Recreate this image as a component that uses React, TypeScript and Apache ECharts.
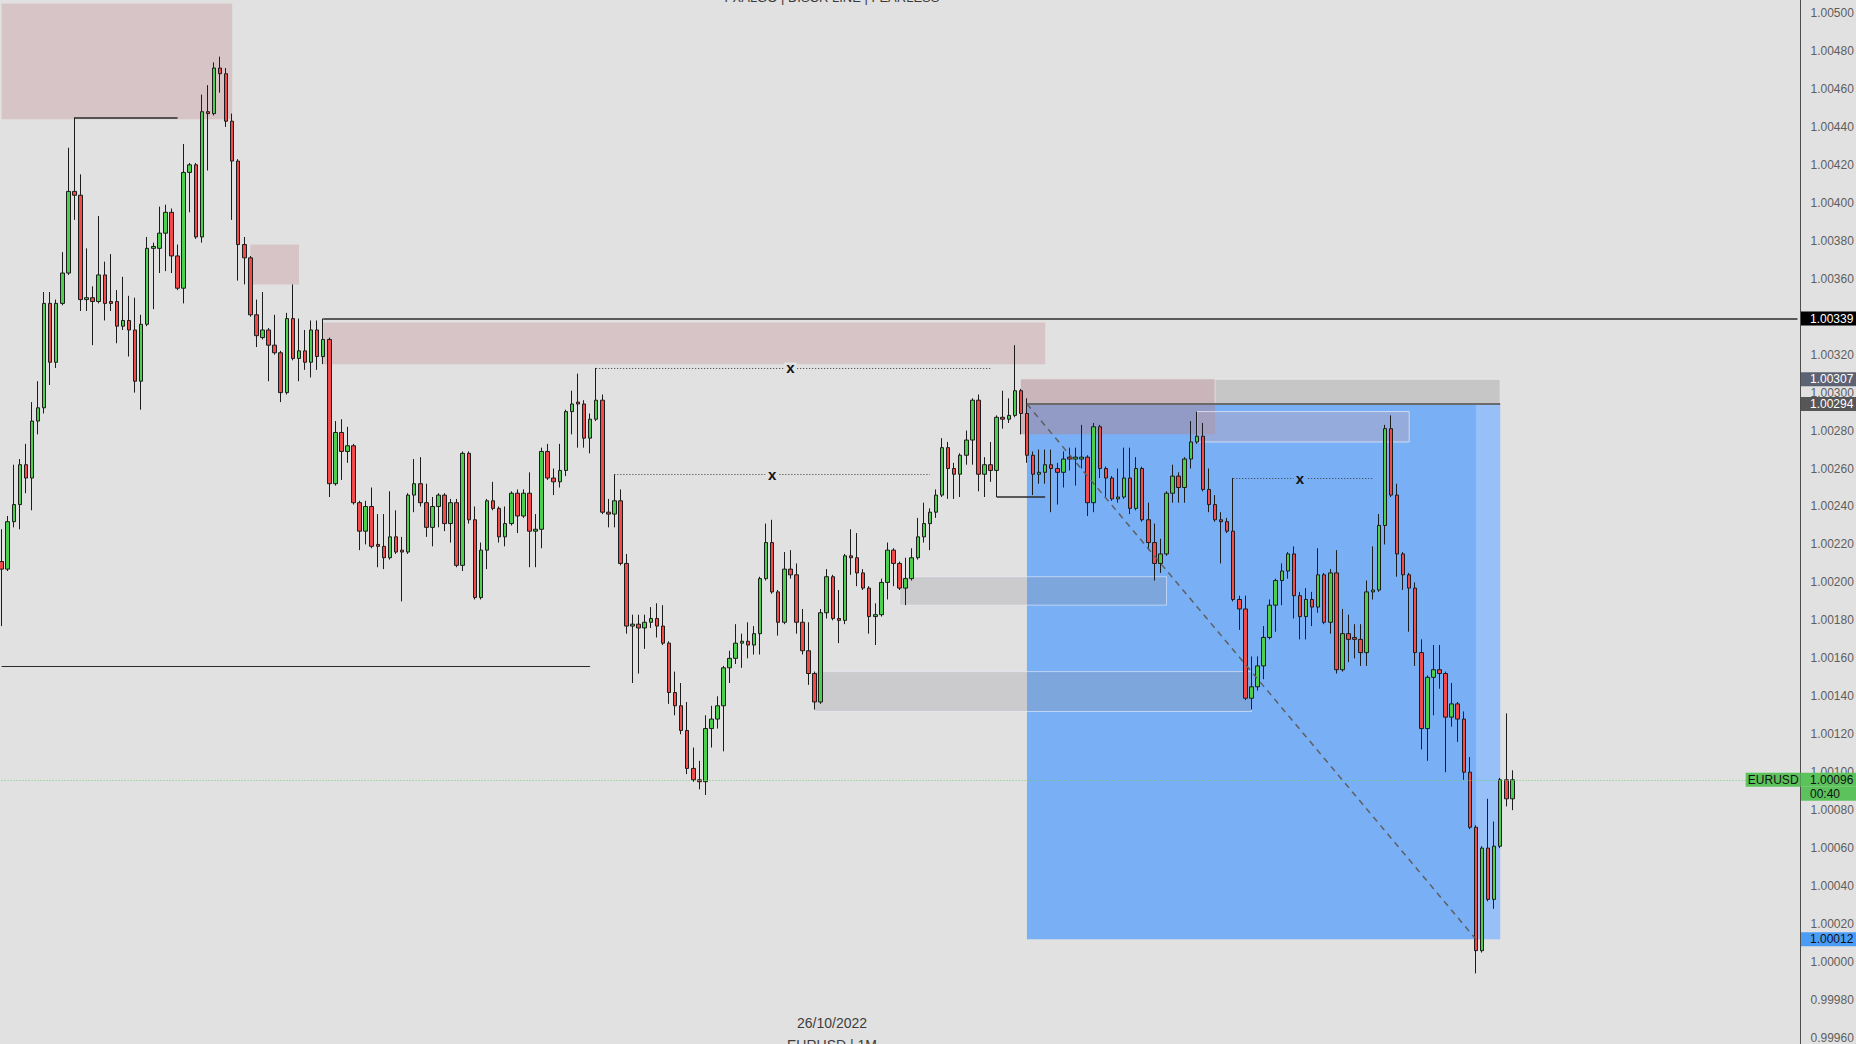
import React, { useEffect, useRef } from "react";
import * as echarts from "echarts";

const FONT = '"Liberation Sans", "Helvetica Neue", Arial, sans-serif';

// ---- candle data (EURUSD 1M) ----
const opens = [
  1.00211,1.00207,1.00232,1.00241,1.00262,1.00255,1.00285,1.00292,1.00347,1.00316,
  1.00347,1.00363,1.00406,1.00404,1.00349,1.00350,1.00348,1.00362,1.00348,1.00348,
  1.00335,1.00338,1.00333,1.00306,1.00336,1.00376,1.00376,1.00384,1.00395,1.00372,
  1.00355,1.00416,1.00420,1.00382,1.00448,1.00447,1.00471,1.00468,1.00443,1.00422,
  1.00378,1.00371,1.00341,1.00329,1.00333,1.00325,1.00321,1.00300,1.00339,1.00318,
  1.00322,1.00316,1.00333,1.00319,1.00328,1.00252,1.00279,1.00269,1.00272,1.00242,
  1.00227,1.00240,1.00220,1.00219,1.00213,1.00224,1.00217,1.00216,1.00246,1.00252,
  1.00242,1.00229,1.00240,1.00246,1.00231,1.00242,1.00209,1.00268,1.00233,1.00192,
  1.00217,1.00243,1.00239,1.00224,1.00231,1.00247,1.00235,1.00247,1.00227,1.00228,
  1.00269,1.00255,1.00253,1.00259,1.00290,1.00295,1.00294,1.00276,1.00286,1.00296,
  1.00237,1.00236,1.00243,1.00210,1.00177,1.00178,1.00176,1.00179,1.00181,1.00177,
  1.00168,1.00142,1.00135,1.00122,1.00102,1.00096,1.00095,1.00123,1.00128,1.00135,
  1.00155,1.00160,1.00168,1.00169,1.00167,1.00173,1.00202,1.00221,1.00195,1.00179,
  1.00207,1.00204,1.00179,1.00164,1.00152,1.00137,1.00184,1.00203,1.00181,1.00180,
  1.00214,1.00213,1.00205,1.00197,1.00182,1.00183,1.00200,1.00217,1.00210,1.00197,
  1.00202,1.00213,1.00224,1.00231,1.00237,1.00246,1.00271,1.00260,1.00257,1.00267,
  1.00275,1.00296,1.00257,1.00262,1.00259,1.00287,1.00286,1.00288,1.00301,1.00289,
  1.00267,1.00257,1.00258,1.00262,1.00260,1.00258,1.00266,1.00265,1.00265,1.00266,
  1.00242,1.00282,1.00260,1.00255,1.00244,1.00245,1.00255,1.00239,1.00260,1.00233,
  1.00221,1.00210,1.00215,1.00247,1.00256,1.00250,1.00265,1.00274,1.00277,1.00249,
  1.00241,1.00233,1.00232,1.00227,1.00191,1.00186,1.00139,1.00145,1.00156,1.00171,
  1.00188,1.00201,1.00206,1.00215,1.00193,1.00182,1.00191,1.00187,1.00204,1.00179,
  1.00205,1.00154,1.00173,1.00171,1.00170,1.00163,1.00195,1.00196,1.00230,1.00281,
  1.00246,1.00215,1.00204,1.00197,1.00163,1.00123,1.00150,1.00154,1.00152,1.00129,
  1.00136,1.00128,1.00100,1.00071,1.00006,1.00060,1.00033,1.00061,1.00096,1.00086,
];
const closes = [
  1.00207,1.00232,1.00241,1.00262,1.00255,1.00285,1.00292,1.00347,1.00316,1.00347,
  1.00363,1.00406,1.00404,1.00349,1.00350,1.00348,1.00362,1.00347,1.00347,1.00335,
  1.00338,1.00333,1.00306,1.00336,1.00376,1.00377,1.00384,1.00395,1.00372,1.00355,
  1.00416,1.00420,1.00382,1.00448,1.00447,1.00471,1.00468,1.00443,1.00422,1.00378,
  1.00371,1.00341,1.00330,1.00333,1.00325,1.00321,1.00300,1.00339,1.00318,1.00322,
  1.00316,1.00333,1.00319,1.00328,1.00252,1.00279,1.00269,1.00272,1.00242,1.00227,
  1.00240,1.00219,1.00219,1.00213,1.00224,1.00216,1.00216,1.00246,1.00252,1.00242,
  1.00229,1.00240,1.00246,1.00231,1.00242,1.00209,1.00268,1.00233,1.00192,1.00217,
  1.00243,1.00239,1.00224,1.00231,1.00247,1.00235,1.00247,1.00227,1.00228,1.00269,
  1.00255,1.00253,1.00259,1.00290,1.00294,1.00294,1.00276,1.00286,1.00296,1.00237,
  1.00236,1.00243,1.00210,1.00177,1.00178,1.00176,1.00179,1.00181,1.00177,1.00168,
  1.00142,1.00135,1.00122,1.00102,1.00096,1.00095,1.00123,1.00128,1.00135,1.00155,
  1.00160,1.00168,1.00169,1.00167,1.00173,1.00202,1.00221,1.00195,1.00179,1.00207,
  1.00204,1.00179,1.00164,1.00152,1.00137,1.00184,1.00203,1.00181,1.00180,1.00214,
  1.00213,1.00205,1.00197,1.00182,1.00183,1.00200,1.00217,1.00210,1.00197,1.00202,
  1.00213,1.00224,1.00231,1.00237,1.00246,1.00271,1.00260,1.00257,1.00267,1.00275,
  1.00296,1.00257,1.00262,1.00259,1.00287,1.00286,1.00288,1.00301,1.00289,1.00267,
  1.00257,1.00258,1.00262,1.00260,1.00258,1.00265,1.00265,1.00266,1.00266,1.00242,
  1.00282,1.00260,1.00255,1.00244,1.00245,1.00255,1.00239,1.00260,1.00233,1.00221,
  1.00210,1.00215,1.00247,1.00256,1.00250,1.00265,1.00274,1.00277,1.00249,1.00241,
  1.00233,1.00232,1.00227,1.00191,1.00186,1.00139,1.00145,1.00156,1.00171,1.00188,
  1.00201,1.00206,1.00215,1.00193,1.00182,1.00191,1.00187,1.00204,1.00179,1.00205,
  1.00154,1.00173,1.00170,1.00170,1.00163,1.00195,1.00196,1.00230,1.00281,1.00246,
  1.00215,1.00204,1.00197,1.00163,1.00123,1.00150,1.00154,1.00152,1.00129,1.00136,
  1.00128,1.00100,1.00071,1.00006,1.00060,1.00033,1.00061,1.00096,1.00086,1.00096,
];
const lows = [
  1.00177,1.00206,1.00229,1.00228,1.00247,1.00238,1.00278,1.00289,1.00304,1.00313,
  1.00346,1.00362,1.00391,1.00343,1.00343,1.00325,1.00347,1.00338,1.00343,1.00326,
  1.00333,1.00319,1.00300,1.00291,1.00335,1.00344,1.00363,1.00364,1.00363,1.00354,
  1.00347,1.00395,1.00381,1.00379,1.00417,1.00446,1.00458,1.00440,1.00391,1.00359,
  1.00357,1.00340,1.00324,1.00328,1.00306,1.00320,1.00295,1.00299,1.00317,1.00306,
  1.00312,1.00308,1.00312,1.00315,1.00245,1.00251,1.00254,1.00263,1.00241,1.00217,
  1.00220,1.00218,1.00208,1.00207,1.00212,1.00215,1.00190,1.00215,1.00237,1.00240,
  1.00224,1.00219,1.00229,1.00227,1.00221,1.00208,1.00206,1.00231,1.00191,1.00191,
  1.00207,1.00238,1.00221,1.00219,1.00230,1.00226,1.00234,1.00208,1.00208,1.00218,
  1.00254,1.00246,1.00250,1.00256,1.00278,1.00271,1.00271,1.00268,1.00285,1.00236,
  1.00229,1.00229,1.00209,1.00173,1.00147,1.00152,1.00165,1.00176,1.00171,1.00167,
  1.00136,1.00130,1.00120,1.00099,1.00095,1.00091,1.00088,1.00113,1.00123,1.00111,
  1.00147,1.00157,1.00155,1.00160,1.00162,1.00162,1.00201,1.00194,1.00172,1.00178,
  1.00202,1.00173,1.00162,1.00146,1.00133,1.00136,1.00181,1.00180,1.00168,1.00178,
  1.00204,1.00198,1.00196,1.00173,1.00167,1.00182,1.00191,1.00198,1.00196,1.00188,
  1.00201,1.00212,1.00221,1.00217,1.00234,1.00245,1.00244,1.00244,1.00245,1.00262,
  1.00262,1.00248,1.00245,1.00253,1.00245,1.00281,1.00284,1.00287,1.00278,1.00263,
  1.00246,1.00252,1.00252,1.00237,1.00241,1.00250,1.00259,1.00251,1.00260,1.00235,
  1.00237,1.00255,1.00245,1.00243,1.00242,1.00244,1.00236,1.00238,1.00232,1.00217,
  1.00201,1.00205,1.00214,1.00242,1.00242,1.00242,1.00260,1.00273,1.00248,1.00237,
  1.00232,1.00210,1.00226,1.00190,1.00175,1.00138,1.00133,1.00143,1.00149,1.00170,
  1.00174,1.00188,1.00202,1.00181,1.00170,1.00170,1.00177,1.00184,1.00178,1.00173,
  1.00152,1.00153,1.00158,1.00160,1.00156,1.00156,1.00191,1.00195,1.00220,1.00245,
  1.00203,1.00196,1.00174,1.00156,1.00112,1.00106,1.00130,1.00144,1.00100,1.00124,
  1.00116,1.00096,1.00070,0.99994,1.00005,1.00032,1.00028,1.00060,1.00082,1.00080,
];
const highs = [
  1.00228,1.00235,1.00262,1.00265,1.00273,1.00295,1.00306,1.00353,1.00353,1.00349,
  1.00374,1.00429,1.00445,1.00415,1.00376,1.00356,1.00393,1.00369,1.00373,1.00354,
  1.00361,1.00351,1.00350,1.00341,1.00382,1.00379,1.00398,1.00399,1.00397,1.00378,
  1.00431,1.00421,1.00421,1.00457,1.00462,1.00474,1.00477,1.00471,1.00447,1.00423,
  1.00382,1.00372,1.00349,1.00353,1.00334,1.00341,1.00322,1.00342,1.00357,1.00339,
  1.00333,1.00338,1.00338,1.00339,1.00329,1.00285,1.00286,1.00282,1.00273,1.00243,
  1.00243,1.00250,1.00236,1.00236,1.00248,1.00238,1.00224,1.00247,1.00265,1.00266,
  1.00252,1.00245,1.00247,1.00247,1.00244,1.00244,1.00269,1.00269,1.00240,1.00221,
  1.00244,1.00253,1.00240,1.00240,1.00248,1.00249,1.00249,1.00258,1.00236,1.00271,
  1.00273,1.00260,1.00273,1.00291,1.00301,1.00310,1.00296,1.00289,1.00313,1.00299,
  1.00244,1.00257,1.00249,1.00215,1.00183,1.00183,1.00183,1.00187,1.00189,1.00188,
  1.00169,1.00153,1.00147,1.00137,1.00113,1.00106,1.00130,1.00135,1.00140,1.00156,
  1.00164,1.00178,1.00173,1.00179,1.00177,1.00203,1.00231,1.00233,1.00196,1.00216,
  1.00217,1.00210,1.00186,1.00179,1.00153,1.00186,1.00207,1.00204,1.00196,1.00215,
  1.00228,1.00226,1.00207,1.00198,1.00189,1.00202,1.00221,1.00218,1.00211,1.00213,
  1.00218,1.00234,1.00242,1.00239,1.00249,1.00276,1.00274,1.00263,1.00268,1.00280,
  1.00297,1.00299,1.00266,1.00274,1.00288,1.00301,1.00297,1.00325,1.00302,1.00297,
  1.00269,1.00270,1.00270,1.00270,1.00263,1.00269,1.00271,1.00271,1.00283,1.00267,
  1.00284,1.00283,1.00261,1.00256,1.00260,1.00271,1.00271,1.00266,1.00261,1.00242,
  1.00231,1.00223,1.00248,1.00262,1.00258,1.00266,1.00285,1.00290,1.00284,1.00260,
  1.00246,1.00237,1.00234,1.00255,1.00193,1.00193,1.00161,1.00161,1.00177,1.00191,
  1.00202,1.00210,1.00216,1.00219,1.00195,1.00197,1.00195,1.00218,1.00205,1.00207,
  1.00217,1.00186,1.00183,1.00178,1.00178,1.00201,1.00219,1.00236,1.00283,1.00288,
  1.00252,1.00216,1.00205,1.00200,1.00170,1.00151,1.00167,1.00167,1.00153,1.00147,
  1.00137,1.00132,1.00108,1.00072,1.00061,1.00086,1.00074,1.00097,1.00131,1.00101,
];

// time slots on the x axis (candles + empty space to the right)
const SLOT_COUNT = 297;
const slots = Array.from({ length: SLOT_COUNT }, (_, i) => `m${i}`);

// ---- drawings: [fromIndex, toIndex, upperPrice, lowerPrice] ----
const positionBox = [169, 247, 1.00294, 1.00012];
const positionFade = [243, 247, 1.00294, 1.00012];
const supplyZones = [
  [0, 38, 1.00505, 1.00444],
  [41, 49, 1.00378, 1.00357],
  [53, 172, 1.00337, 1.00315],
];
const orderBlock = [168, 200, 1.00307, 1.00278];
const greyTopZone = [200, 247, 1.00307, 1.00294];
const wickZone = [197, 232, 1.0029, 1.00274];
const demandZones = [
  [148, 192, 1.00203, 1.00188],
  [134, 206, 1.00153, 1.00132],
];
// [fromIndex, toIndex, price]
const swingLines = [
  [12, 29, 1.00445],
  [53, 296, 1.00339],
  [0, 97, 1.00156],
  [164, 172, 1.00245],
];
// [fromIndex, toIndex, price, markerIndex]
const sweepLines = [
  [98, 163, 1.00313, 130],
  [101, 153, 1.00257, 127],
  [203, 226, 1.00255, 214],
];
const targetPath = [
  [169, 1.00294],
  [243, 1.00012],
];
const entryLine = [169, 247, 1.00294];
const lastPrice = 1.00096;
const countdownLevel = 1.000886;
const tagLevels = [1.00339, 1.00307, 1.00294, 1.00012];
const tagTexts = ["1.00339", "1.00307", "1.00294", "1.00012"];
const yRange = { min: 0.9994, max: 1.0052, step: 0.0002 };

const BG = "#e1e1e1";
const BLUE = "#79aff5";

function area(z: number[], itemStyle: any) {
  return [{ coord: [z[0], z[2]], itemStyle }, { coord: [z[1], z[3]] }];
}

function tag(value: number, text: string, bg: string, fg: string) {
  return {
    yAxis: value,
    lineStyle: { color: "rgba(0,0,0,0)", width: 0 },
    label: {
      show: true,
      position: "end",
      formatter: text,
      color: fg,
      backgroundColor: bg,
      padding: [1, 6, 1, 9],
      fontSize: 12,
      lineHeight: 12,
      fontFamily: FONT,
      distance: 0.5,
    },
  };
}

function buildOption() {
  const candles = opens.map((o, i) => [o, closes[i], lows[i], highs[i]]);
  const tagColors = [
    ["#000000", "#ffffff"],
    ["#5d6273", "#ffffff"],
    ["#565656", "#ffffff"],
    ["#4b9cf6", "#111111"],
  ];
  return {
    animation: false,
    backgroundColor: BG,
    grid: {
      left: -1.4,
      right: 55.5,
      top: -24.96,
      bottom: -31.9,
      outerBoundsMode: "none",
      containLabel: false,
    },
    xAxis: {
      type: "category",
      data: slots,
      boundaryGap: true,
      show: false,
    },
    yAxis: {
      type: "value",
      position: "right",
      min: yRange.min,
      max: yRange.max,
      interval: yRange.step,
      axisLine: { show: true, lineStyle: { color: "#4d4d4d", width: 1 } },
      axisTick: { show: false },
      splitLine: { show: false },
      axisLabel: {
        formatter: (v: number) => v.toFixed(5),
        color: "#5e5e5e",
        fontSize: 12,
        fontFamily: FONT,
        margin: 10,
      },
    },
    series: [
      {
        type: "line",
        data: [],
        silent: true,
        markArea: {
          silent: true,
          z: 1,
          label: { show: false },
          data: [
            area(positionBox, { color: BLUE }),
            area(positionFade, { color: "rgba(255,255,255,0.22)" }),
            ...supplyZones.map((z) => area(z, { color: "rgba(170,80,90,0.2)" })),
            area(orderBlock, { color: "rgba(175,130,140,0.45)" }),
            area(greyTopZone, {
              color: "rgba(150,150,150,0.35)",
              borderColor: "rgba(240,240,240,0.6)",
              borderWidth: 1,
            }),
            area(wickZone, {
              color: "rgba(190,165,180,0.4)",
              borderColor: "rgba(235,235,245,0.75)",
              borderWidth: 1,
            }),
            ...demandZones.map((z) =>
              area(z, {
                color: "rgba(140,140,150,0.25)",
                borderColor: "rgba(235,240,250,0.6)",
                borderWidth: 1,
              })
            ),
          ],
        },
      },
      {
        type: "candlestick",
        data: candles,
        barWidth: 4,
        silent: true,
        itemStyle: {
          color: "#4ccf4c",
          color0: "#f24a4a",
          borderColor: "#1c1c1c",
          borderColor0: "#1c1c1c",
          borderColorDoji: "#1c1c1c",
          borderWidth: 1,
        },
      },
      {
        type: "line",
        data: [],
        silent: true,
        markLine: {
          silent: true,
          z: 5,
          precision: 6,
          symbol: ["none", "none"],
          label: { show: false },
          data: [
            ...swingLines.map(([a, b, p], i) => [
              {
                coord: [a, p],
                lineStyle: { color: "#2b2b2b", width: i === 2 ? 1.2 : 1.6, type: "solid" },
              },
              { coord: [b, p] },
            ]),
            ...sweepLines.map(([a, b, p]) => [
              { coord: [a, p], lineStyle: { color: "#3a3a3a", width: 1, type: [1, 2] } },
              { coord: [b, p] },
            ]),
            [
              { coord: targetPath[0], lineStyle: { color: "#5f5f5f", width: 1.5, type: [6, 5] } },
              { coord: targetPath[1] },
            ],
            [
              {
                coord: [entryLine[0], entryLine[2]],
                lineStyle: { color: "#6a6a6a", width: 2, type: "solid" },
              },
              { coord: [entryLine[1], entryLine[2]] },
            ],
            { yAxis: lastPrice, lineStyle: { color: "#6fcf6f", width: 1, type: [1, 2] } },
          ],
        },
      },
      {
        type: "line",
        data: [],
        silent: true,
        markLine: {
          silent: true,
          z: 6,
          precision: 6,
          symbol: ["none", "none"],
          data: [
            ...tagLevels.map((v, i) => tag(v, tagTexts[i], tagColors[i][0], tagColors[i][1])),
            tag(countdownLevel, "00:40    ", "#5cc25c", "#111111"),
            tag(lastPrice, "1.00096", "#5cc25c", "#111111"),
          ],
        },
      },
      {
        type: "line",
        data: [],
        silent: true,
        markPoint: {
          silent: true,
          z: 7,
          data: [
            ...sweepLines.map(([, , p, m]) => ({
              coord: [m, p],
              symbol: "rect",
              symbolSize: [13, 11],
              itemStyle: { color: m > 169 ? BLUE : BG },
              label: {
                show: true,
                position: "inside",
                formatter: "x",
                color: "#111",
                fontSize: 15,
                fontWeight: "bold",
                fontFamily: FONT,
              },
            })),
            {
              coord: [292, lastPrice],
              symbol: "rect",
              symbolSize: [55, 14],
              itemStyle: { color: "#5cc25c" },
              label: {
                show: true,
                position: "inside",
                formatter: "EURUSD",
                color: "#111",
                fontSize: 12,
                fontFamily: FONT,
              },
            },
          ],
        },
      },
    ],
    graphic: [
      {
        type: "text",
        x: 832,
        y: -3,
        silent: true,
        style: {
          text: "FXALGO | DISCR LINE | FEARLESS",
          fill: "#3a3a3a",
          font: `13px ${FONT}`,
          align: "center",
          verticalAlign: "middle",
        },
      },
      {
        type: "text",
        x: 832,
        y: 1022.7,
        silent: true,
        style: {
          text: "26/10/2022",
          fill: "#3d3d3d",
          font: `14px ${FONT}`,
          align: "center",
          verticalAlign: "middle",
        },
      },
      {
        type: "text",
        x: 832,
        y: 1044.5,
        silent: true,
        style: {
          text: "EURUSD | 1M",
          fill: "#3d3d3d",
          font: `14px ${FONT}`,
          align: "center",
          verticalAlign: "middle",
        },
      },
    ],
  };
}

export default function App() {
  const ref = useRef<HTMLDivElement>(null);
  useEffect(() => {
    if (!ref.current) return;
    const chart = echarts.init(ref.current, null, { renderer: "svg" });
    chart.setOption(buildOption() as any);
    return () => chart.dispose();
  }, []);
  return (
    <div
      ref={ref}
      style={{
        position: "fixed",
        left: 0,
        top: 0,
        width: 1856,
        height: 1044,
        background: BG,
      }}
    />
  );
}
